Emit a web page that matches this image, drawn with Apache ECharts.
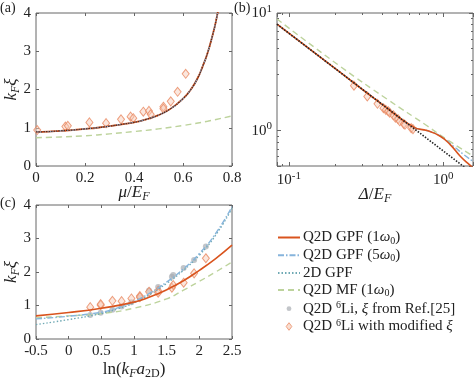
<!DOCTYPE html>
<html><head><meta charset="utf-8">
<script src="https://cdn.jsdelivr.net/npm/echarts@6/dist/echarts.min.js"></script>
<style>html,body{margin:0;padding:0;background:#fff}#c{width:474px;height:379px}</style>
</head><body><div id="c"></div>
<script>
// ---------- Panel (a) ----------
const aX      = [0,0.05,0.1,0.15,0.2,0.25,0.3,0.35,0.4,0.45,0.5,0.55,0.6,0.63,0.66,0.68,0.7,0.72,0.735,0.75];
const aGPF    = [0.89,0.9,0.92,0.94,0.97,1.0,1.04,1.09,1.14,1.22,1.33,1.5,1.76,1.98,2.3,2.6,2.95,3.4,3.8,4.3];
const aMFX    = [0,0.1,0.2,0.3,0.4,0.5,0.6,0.7,0.8];
const aMF     = [0.74,0.76,0.79,0.84,0.9,0.97,1.06,1.17,1.31];
const aDiaX   = [0.005,0.12,0.13,0.218,0.286,0.347,0.386,0.397,0.438,0.461,0.468,0.52,0.52,0.55,0.578,0.611];
const aDiaY   = [0.94,1.03,1.05,1.14,1.12,1.22,1.29,1.25,1.42,1.44,1.35,1.55,1.50,1.69,1.94,2.41];
// ---------- Panel (b) ----------
const bGPFX   = [0.0837,0.2,0.4,0.643,0.785,0.957,1.11,1.29,1.49,1.56];
const bGPF    = [8.03,3.36,1.68,1.07,1.0,0.895,0.76,0.605,0.508,0.48];
const bGPF5X  = [0.0837,0.2,0.4,0.643,0.785,0.957,1.167,1.35,1.57];
const bGPF5   = [8.03,3.36,1.68,1.07,1.0,0.9,0.736,0.63,0.543];
const bDotX   = [0.0837,0.2,0.5,1.0,1.34,1.45];
const bDot    = [8.03,3.36,1.344,0.672,0.501,0.463];
const bMFX    = [0.0837,0.216,0.433,0.785,1.057,1.57];
const bMF     = [8.9,3.5,1.85,1.1,0.84,0.605];
const bDiaX   = [0.264,0.322,0.375,0.41,0.425,0.44,0.45,0.475,0.49,0.51,0.523,0.555,0.565,0.62,0.637];
const bDiaY   = [2.41,1.95,1.69,1.55,1.50,1.46,1.42,1.35,1.29,1.25,1.20,1.14,1.12,1.05,1.03];
// ---------- Panel (c) ----------
const cX      = [-0.5,0,0.5,1,1.25,1.5,1.75,2,2.25,2.5];
const cGPF1   = [0.69,0.79,0.92,1.1,1.26,1.47,1.73,2.05,2.4,2.8];
const cX5     = [-0.5,0,0.5,0.75,1,1.25,1.5,1.75,2,2.25,2.5];
const cGPF5   = [0.6,0.68,0.8,0.93,1.12,1.38,1.7,2.08,2.55,3.15,3.95];
const c2D     = [0.43,0.58,0.76,0.9,1.08,1.34,1.66,2.04,2.5,3.1,3.9];
const cMFX    = [-0.5,0,0.5,1,1.5,1.75,2,2.25,2.5];
const cMF     = [0.63,0.69,0.76,0.92,1.2,1.45,1.72,2.0,2.3];
const cDiaX   = [0.33,0.49,0.49,0.67,0.81,0.96,1.09,1.09,1.23,1.37,1.37,1.58,1.60,1.76,1.92,2.10];
const cDiaY   = [0.95,1.01,1.04,1.14,1.13,1.21,1.28,1.25,1.41,1.44,1.38,1.53,1.61,1.68,1.96,2.41];
const cCirX   = [0.33,0.49,0.67,0.81,0.96,1.09,1.23,1.37,1.58,1.60,1.76,1.92,2.10];
const cCirY   = [0.72,0.78,0.87,0.97,1.1,1.24,1.45,1.55,1.86,1.91,2.12,2.36,2.76];
// ---------- Tick labels / names ----------
const aXTicks = [0,0.2,0.4,0.6,0.8];
const cXTicks = [-0.5,0,0.5,1,1.5,2,2.5];
const yTicks  = [0,1,2,3,4];
const legendNames = ['Q2D GPF (1ω0)','Q2D GPF (5ω0)','2D GPF','Q2D MF (1ω0)','Q2D 6Li, ξ from Ref.[25]','Q2D 6Li with modified ξ'];
const legendRichText = {
  'Q2D GPF (1ω0)': 'Q2D GPF (1{i|ω}{s|0})',
  'Q2D GPF (5ω0)': 'Q2D GPF (5{i|ω}{s|0})',
  '2D GPF': '2D GPF',
  'Q2D MF (1ω0)': 'Q2D MF (1{i|ω}{s|0})',
  'Q2D 6Li, ξ from Ref.[25]': 'Q2D {p|6}Li, {i|ξ} from Ref.[25]',
  'Q2D 6Li with modified ξ': 'Q2D {p|6}Li with modified {i|ξ}'
};

const zip = (xs, ys) => xs.map((x, i) => [x, ys[i]]);
const FONT = 'Liberation Serif';
const TXT = '#222';
const FRAME = '#666';
const RED = '#d9541e', BLUE = '#86b4dc', TEAL = '#6fa9b4', GREEN = '#bdd39c', DARK = '#222';

const nameRich = {
  i: {fontFamily: FONT, fontStyle: 'italic', fontSize: 17, color: TXT},
  s: {fontFamily: FONT, fontStyle: 'italic', fontSize: 12, color: TXT, padding: [8,0,0,0]},
  r: {fontFamily: FONT, fontSize: 12, color: TXT, padding: [8,0,0,0]}
};
const nameStyle = {fontFamily: FONT, fontSize: 17, color: TXT, rich: nameRich};
const labelStyle = {fontFamily: FONT, fontSize: 15, color: TXT};
const logRich = {sup: {fontFamily: FONT, fontSize: 11, color: TXT, padding: [0,0,8,0]}};
const logFmt = v => {
  const l = Math.log10(v), e = Math.round(l);
  if (Math.abs(l - e) > 1e-6) return '';
  return '10{sup|' + e + '}';
};

function valAxis(gi, pos, min, max, interval, show, extra) {
  return Object.assign({
    type: 'value', gridIndex: gi, position: pos, min, max, interval,
    axisLine: {show: false, onZero: false}, splitLine: {show: false},
    axisTick: {show: true, inside: true, length: 3, lineStyle: {color: FRAME}},
    axisLabel: show ? Object.assign({show: true, margin: 5}, labelStyle) : {show: false},
    nameMoveOverlap: false
  }, extra || {});
}
function logAxis(gi, pos, min, max, show, extra) {
  return Object.assign({
    type: 'log', logBase: 10, gridIndex: gi, position: pos, min, max,
    axisLine: {show: false, onZero: false}, splitLine: {show: false},
    axisTick: {show: true, inside: true, length: 4, lineStyle: {color: FRAME}},
    minorTick: {show: true, splitNumber: 9, length: 2, lineStyle: {color: FRAME}},
    axisLabel: show ? Object.assign({show: true, margin: 5, formatter: logFmt, rich: logRich}, labelStyle) : {show: false},
    nameMoveOverlap: false
  }, extra || {});
}

const kxiName = '{i|k}{s|F}{i|ξ}';
const hideSym = {opacity: 0};
const diaSvg = '<svg xmlns="http://www.w3.org/2000/svg" width="22" height="10"><path d="M11 1.2L13.8 5L11 8.8L8.2 5Z" fill="#f8d6c6" stroke="#e9875f" stroke-width="1"/></svg>';
const diaIcon = 'image://data:image/svg+xml;charset=utf-8,' + encodeURIComponent(diaSvg);

const option = {
  animation: false,
  backgroundColor: '#fff',
  grid: [
    {left: 36, top: 13, width: 196, height: 153, show: true, borderColor: FRAME, borderWidth: 1, backgroundColor: 'transparent', outerBoundsMode: 'none'},
    {left: 277, top: 13, width: 196, height: 153, show: true, borderColor: FRAME, borderWidth: 1, backgroundColor: 'transparent', outerBoundsMode: 'none'},
    {left: 36, top: 205, width: 196, height: 134, show: true, borderColor: FRAME, borderWidth: 1, backgroundColor: 'transparent', outerBoundsMode: 'none'}
  ],
  xAxis: [
    valAxis(0, 'bottom', aXTicks[0], aXTicks[aXTicks.length-1], 0.2, true,
      {name: '{i|μ}/{i|E}{s|F}', nameLocation: 'middle', nameGap: 17, nameTextStyle: nameStyle}),
    valAxis(0, 'top', aXTicks[0], aXTicks[aXTicks.length-1], 0.2, false),
    logAxis(1, 'bottom', 0.0837, 1.56, true,
      {name: '{i|Δ}/{i|E}{s|F}', nameLocation: 'middle', nameGap: 19, nameTextStyle: nameStyle}),
    logAxis(1, 'top', 0.0837, 1.56, false),
    valAxis(2, 'bottom', cXTicks[0], cXTicks[cXTicks.length-1], 0.5, true,
      {name: 'ln({i|k}{s|F}{i|a}{r|2D})', nameLocation: 'middle', nameGap: 21, nameTextStyle: nameStyle}),
    valAxis(2, 'top', cXTicks[0], cXTicks[cXTicks.length-1], 0.5, false)
  ],
  yAxis: [
    valAxis(0, 'left', yTicks[0], yTicks[yTicks.length-1], 1, true,
      {name: kxiName, nameLocation: 'middle', nameGap: 14, nameRotate: 90, nameTextStyle: nameStyle}),
    valAxis(0, 'right', yTicks[0], yTicks[yTicks.length-1], 1, false),
    logAxis(1, 'left', 0.5, 10, true),
    logAxis(1, 'right', 0.5, 10, false),
    valAxis(2, 'left', yTicks[0], yTicks[yTicks.length-1], 1, true,
      {name: kxiName, nameLocation: 'middle', nameGap: 14, nameRotate: 90, nameTextStyle: nameStyle}),
    valAxis(2, 'right', yTicks[0], yTicks[yTicks.length-1], 1, false)
  ],
  legend: {
    orient: 'vertical', left: 277, top: 230, itemWidth: 22, itemHeight: 10, itemGap: 1.8,
    padding: 0, selectedMode: false,
    textStyle: {fontFamily: FONT, fontSize: 15, color: TXT, padding: [0,0,0,-2],
      rich: {
        i: {fontFamily: FONT, fontStyle: 'italic', fontSize: 15, color: TXT},
        s: {fontFamily: FONT, fontSize: 10, color: TXT, padding: [7,0,0,0]},
        p: {fontFamily: FONT, fontSize: 10, color: TXT, padding: [0,0,7,0]}
      }},
    formatter: n => legendRichText[n],
    data: [
      {name: legendNames[0], itemStyle: hideSym},
      {name: legendNames[1], itemStyle: hideSym},
      {name: legendNames[2], itemStyle: hideSym},
      {name: legendNames[3], itemStyle: hideSym},
      {name: legendNames[4], icon: 'path://M0,0L0,0M22,10L22,10M8.6,5a2.4,2.4 0 1,0 4.8,0a2.4,2.4 0 1,0 -4.8,0Z'},
      {name: legendNames[5], icon: diaIcon}
    ]
  },
  graphic: [
    {type: 'text', left: 0, top: 1, style: {text: '(a)', font: '14px "Liberation Serif"', fill: TXT}},
    {type: 'text', left: 234, top: 1, style: {text: '(b)', font: '14px "Liberation Serif"', fill: TXT}},
    {type: 'text', left: 0, top: 196, style: {text: '(c)', font: '14px "Liberation Serif"', fill: TXT}}
  ],
  series: [
    // ---- (c) first so legend takes these styles ----
    {name: legendNames[3], type: 'line', xAxisIndex: 4, yAxisIndex: 4, data: zip(cMFX, cMF), smooth: true, showSymbol: false, symbol: 'none',
      lineStyle: {color: GREEN, width: 1.4, type: [6,4]}, itemStyle: {color: GREEN}},
    {name: legendNames[2], type: 'line', xAxisIndex: 4, yAxisIndex: 4, data: zip(cX5, c2D), smooth: true, showSymbol: false, symbol: 'none',
      lineStyle: {color: TEAL, width: 1.4, type: [1.5,2]}, itemStyle: {color: TEAL}},
    {name: legendNames[4], type: 'scatter', xAxisIndex: 4, yAxisIndex: 4, data: zip(cCirX, cCirY), symbol: 'circle', symbolSize: 6,
      itemStyle: {color: 'rgba(165,170,176,0.85)'}},
    {name: legendNames[1], type: 'line', xAxisIndex: 4, yAxisIndex: 4, data: zip(cX5, cGPF5), smooth: true, showSymbol: false, symbol: 'none',
      lineStyle: {color: BLUE, width: 1.4, type: [6,2,1.5,2]}, itemStyle: {color: BLUE}},
    {name: legendNames[5], type: 'scatter', xAxisIndex: 4, yAxisIndex: 4, data: zip(cDiaX, cDiaY), symbol: 'diamond', symbolSize: [7,9],
      itemStyle: {color: 'rgba(247,205,185,0.6)', borderColor: '#e9875f', borderWidth: 1}},
    {name: legendNames[0], type: 'line', xAxisIndex: 4, yAxisIndex: 4, data: zip(cX, cGPF1), smooth: true, showSymbol: false, symbol: 'none',
      lineStyle: {color: RED, width: 1.6}, itemStyle: {color: RED}},
    // ---- (a) ----
    {name: legendNames[3], type: 'line', xAxisIndex: 0, yAxisIndex: 0, data: zip(aMFX, aMF), smooth: true, showSymbol: false, symbol: 'none',
      lineStyle: {color: GREEN, width: 1.4, type: [6,4]}},
    {name: legendNames[0], type: 'line', xAxisIndex: 0, yAxisIndex: 0, data: zip(aX, aGPF), smooth: true, showSymbol: false, symbol: 'none',
      lineStyle: {color: RED, width: 1.8}},
    {name: legendNames[1], type: 'line', xAxisIndex: 0, yAxisIndex: 0, data: zip(aX, aGPF), smooth: true, showSymbol: false, symbol: 'none',
      lineStyle: {color: BLUE, width: 1.2, type: [6,2,1.5,2]}},
    {name: 'a-dark', type: 'line', xAxisIndex: 0, yAxisIndex: 0, data: zip(aX, aGPF), smooth: true, showSymbol: false, symbol: 'none',
      lineStyle: {color: '#5a2a1a', width: 1.2, type: [1.5,1]}},
    {name: legendNames[5], type: 'scatter', xAxisIndex: 0, yAxisIndex: 0, data: zip(aDiaX, aDiaY), symbol: 'diamond', symbolSize: [7,9],
      itemStyle: {color: 'rgba(247,205,185,0.6)', borderColor: '#e9875f', borderWidth: 1}},
    // ---- (b) ----
    {name: legendNames[3], type: 'line', xAxisIndex: 2, yAxisIndex: 2, data: zip(bMFX, bMF), smooth: true, showSymbol: false, symbol: 'none',
      lineStyle: {color: GREEN, width: 1.4, type: [6,4]}},
    {name: legendNames[1], type: 'line', xAxisIndex: 2, yAxisIndex: 2, data: zip(bGPF5X, bGPF5), smooth: true, showSymbol: false, symbol: 'none',
      lineStyle: {color: BLUE, width: 1.4, type: [6,2,1.5,2]}},
    {name: legendNames[5], type: 'scatter', xAxisIndex: 2, yAxisIndex: 2, data: zip(bDiaX, bDiaY), symbol: 'diamond', symbolSize: [7,9],
      itemStyle: {color: 'rgba(247,205,185,0.6)', borderColor: '#e9875f', borderWidth: 1}},
    {name: legendNames[0], type: 'line', xAxisIndex: 2, yAxisIndex: 2, data: zip(bGPFX, bGPF), smooth: true, showSymbol: false, symbol: 'none',
      lineStyle: {color: RED, width: 1.6}},
    {name: 'b-ref', type: 'line', xAxisIndex: 2, yAxisIndex: 2, data: zip(bDotX, bDot), showSymbol: false, symbol: 'none',
      lineStyle: {color: DARK, width: 1.6, type: [1.5,1.5]}}
  ]
};
const chart = echarts.init(document.getElementById('c'), null, {renderer: 'canvas'});
chart.setOption(option);
</script></body></html>
